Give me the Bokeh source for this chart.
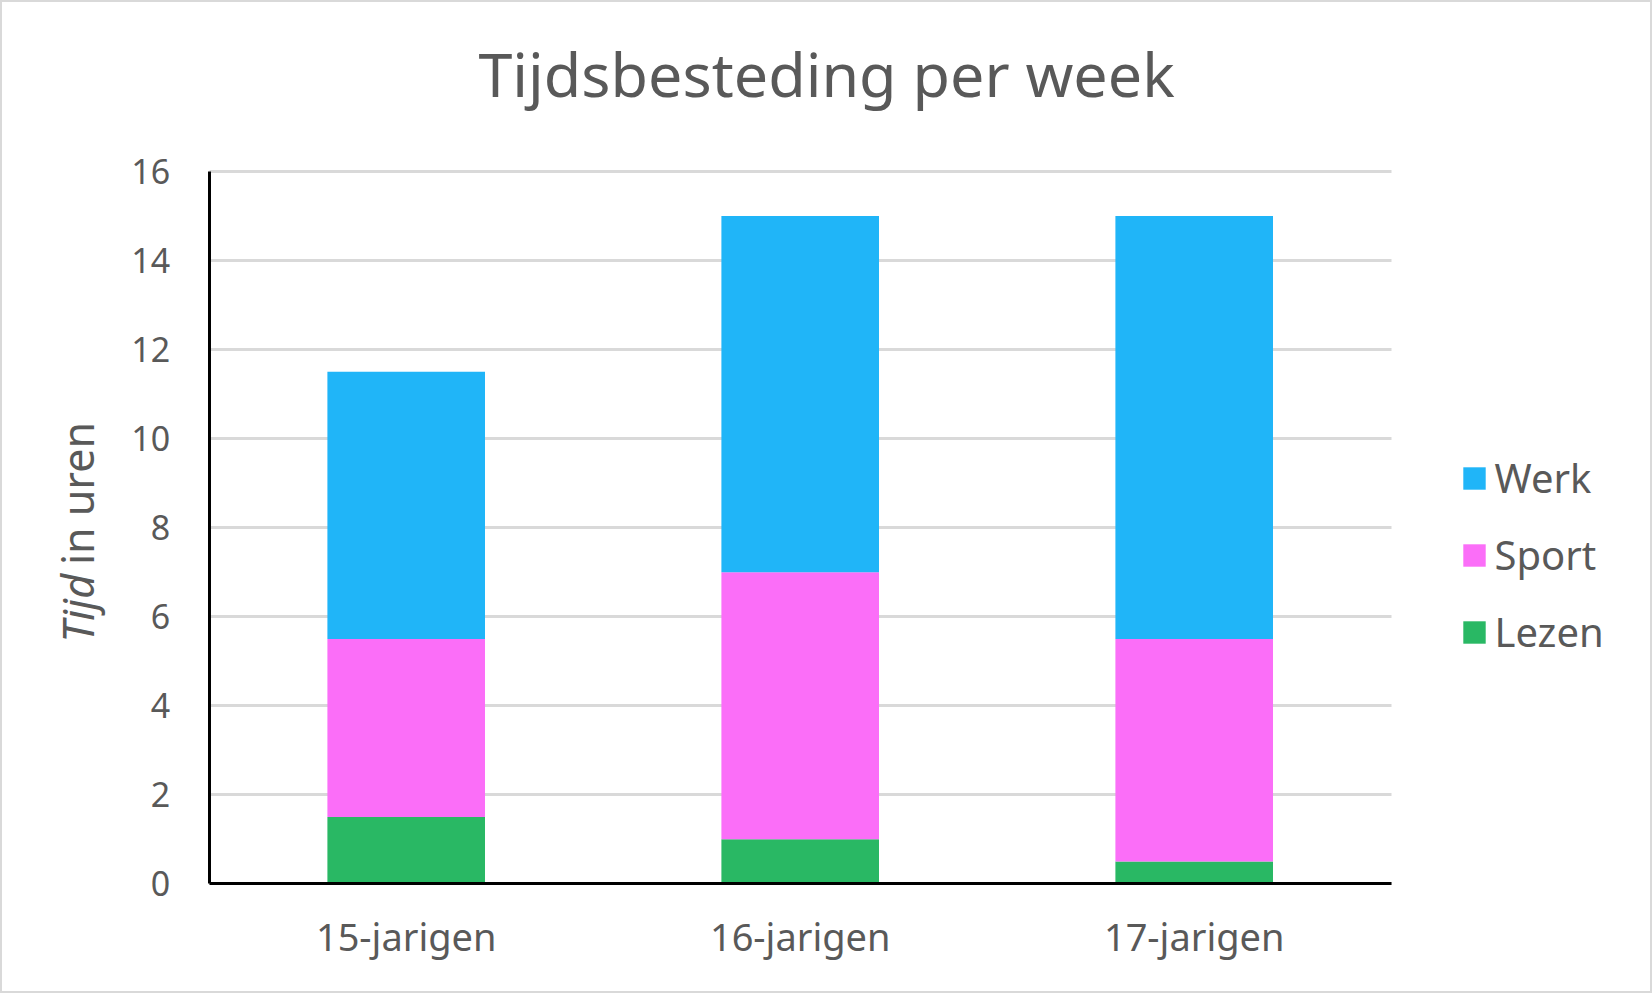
from bokeh.plotting import figure
from bokeh.models import Legend, LegendItem, Label, FixedTicker, Range1d
from bokeh.embed import file_html
from bokeh.resources import INLINE

# data
groepen = ["15-jarigen", "16-jarigen", "17-jarigen"]
lezen = [1.5, 1.0, 0.5]
sport = [4.0, 6.0, 5.0]
werk = [6.0, 8.0, 9.5]
y_ticks = [0, 2, 4, 6, 8, 10, 12, 14, 16]

FONT = "Noto Sans"
GREY = "#595959"

# bars sit at the middle of each category slot
xpos = [i + 0.5 for i in range(len(groepen))]
src = dict(x=xpos, Lezen=lezen, Sport=sport, Werk=werk)

# the frame covers the whole canvas, so the title, axis title and legend
# live inside it; the axes are pinned at x=0 / y=0
p = figure(width=1652, height=993, output_backend="svg", toolbar_location=None,
           x_range=Range1d(-0.5297, 3.6632), y_range=Range1d(-2.464, 19.841),
           min_border=0)
p.outline_line_color = "#D9D9D9"
p.outline_line_width = 3

r = p.vbar_stack(["Lezen", "Sport", "Werk"], x="x", width=0.4, source=src,
                 color=["#29B864", "#FB6EF8", "#20B5F8"], line_color=None)

# axes
p.yaxis.ticker = FixedTicker(ticks=y_ticks)
p.yaxis.fixed_location = 0
p.yaxis.bounds = (0, 16)
p.yaxis.major_tick_line_color = None
p.yaxis.major_tick_in = 0
p.yaxis.major_tick_out = 0
p.yaxis.minor_tick_line_color = None
p.yaxis.axis_line_color = "black"
p.yaxis.axis_line_width = 3
p.yaxis.major_label_text_font = FONT
p.yaxis.major_label_text_font_size = "34px"
p.yaxis.major_label_text_color = GREY
p.yaxis.major_label_standoff = 39

p.xaxis.ticker = FixedTicker(ticks=xpos)
p.xaxis.major_label_overrides = {x: g for x, g in zip(xpos, groepen)}
p.xaxis.fixed_location = 0
p.xaxis.bounds = (0, len(groepen))
p.xaxis.major_tick_line_color = None
p.xaxis.major_tick_in = 0
p.xaxis.major_tick_out = 0
p.xaxis.minor_tick_line_color = None
p.xaxis.axis_line_color = "black"
p.xaxis.axis_line_width = 3
p.xaxis.major_label_text_font = FONT
p.xaxis.major_label_text_font_size = "38px"
p.xaxis.major_label_text_color = GREY
p.xaxis.major_label_standoff = 26

p.xgrid.grid_line_color = None
p.ygrid.grid_line_color = "#D9D9D9"
p.ygrid.grid_line_width = 3
p.ygrid.cross_bounds = (0, len(groepen))

# title
p.add_layout(Label(x=1.567, y=18.21, text="Tijdsbesteding per week",
                   text_font=FONT, text_font_size="61px", text_color=GREY,
                   text_align="center", text_baseline="alphabetic"))

# y axis title: "Tijd" italic, rest normal
p.add_layout(Label(x=-0.334, y=6.96, text="Tijd", angle=1.5708,
                   text_font=FONT, text_font_size="43px", text_font_style="italic",
                   text_color=GREY, text_align="right", text_baseline="alphabetic"))
p.add_layout(Label(x=-0.334, y=7.16, text="in uren", angle=1.5708,
                   text_font=FONT, text_font_size="43px",
                   text_color=GREY, text_align="left", text_baseline="alphabetic"))

# legend (top to bottom: Werk, Sport, Lezen)
legend = Legend(items=[LegendItem(label="Werk", renderers=[r[2]]),
                       LegendItem(label="Sport", renderers=[r[1]]),
                       LegendItem(label="Lezen", renderers=[r[0]])],
                location=(1459.5, 334), orientation="vertical",
                glyph_width=28, glyph_height=28, label_standoff=7,
                label_text_font=FONT, label_text_font_size="40px",
                label_text_color=GREY, spacing=22, padding=0, margin=0,
                border_line_color=None, background_fill_alpha=0)
p.add_layout(legend, "center")

open("out.html", "w").write(file_html(p, INLINE))
